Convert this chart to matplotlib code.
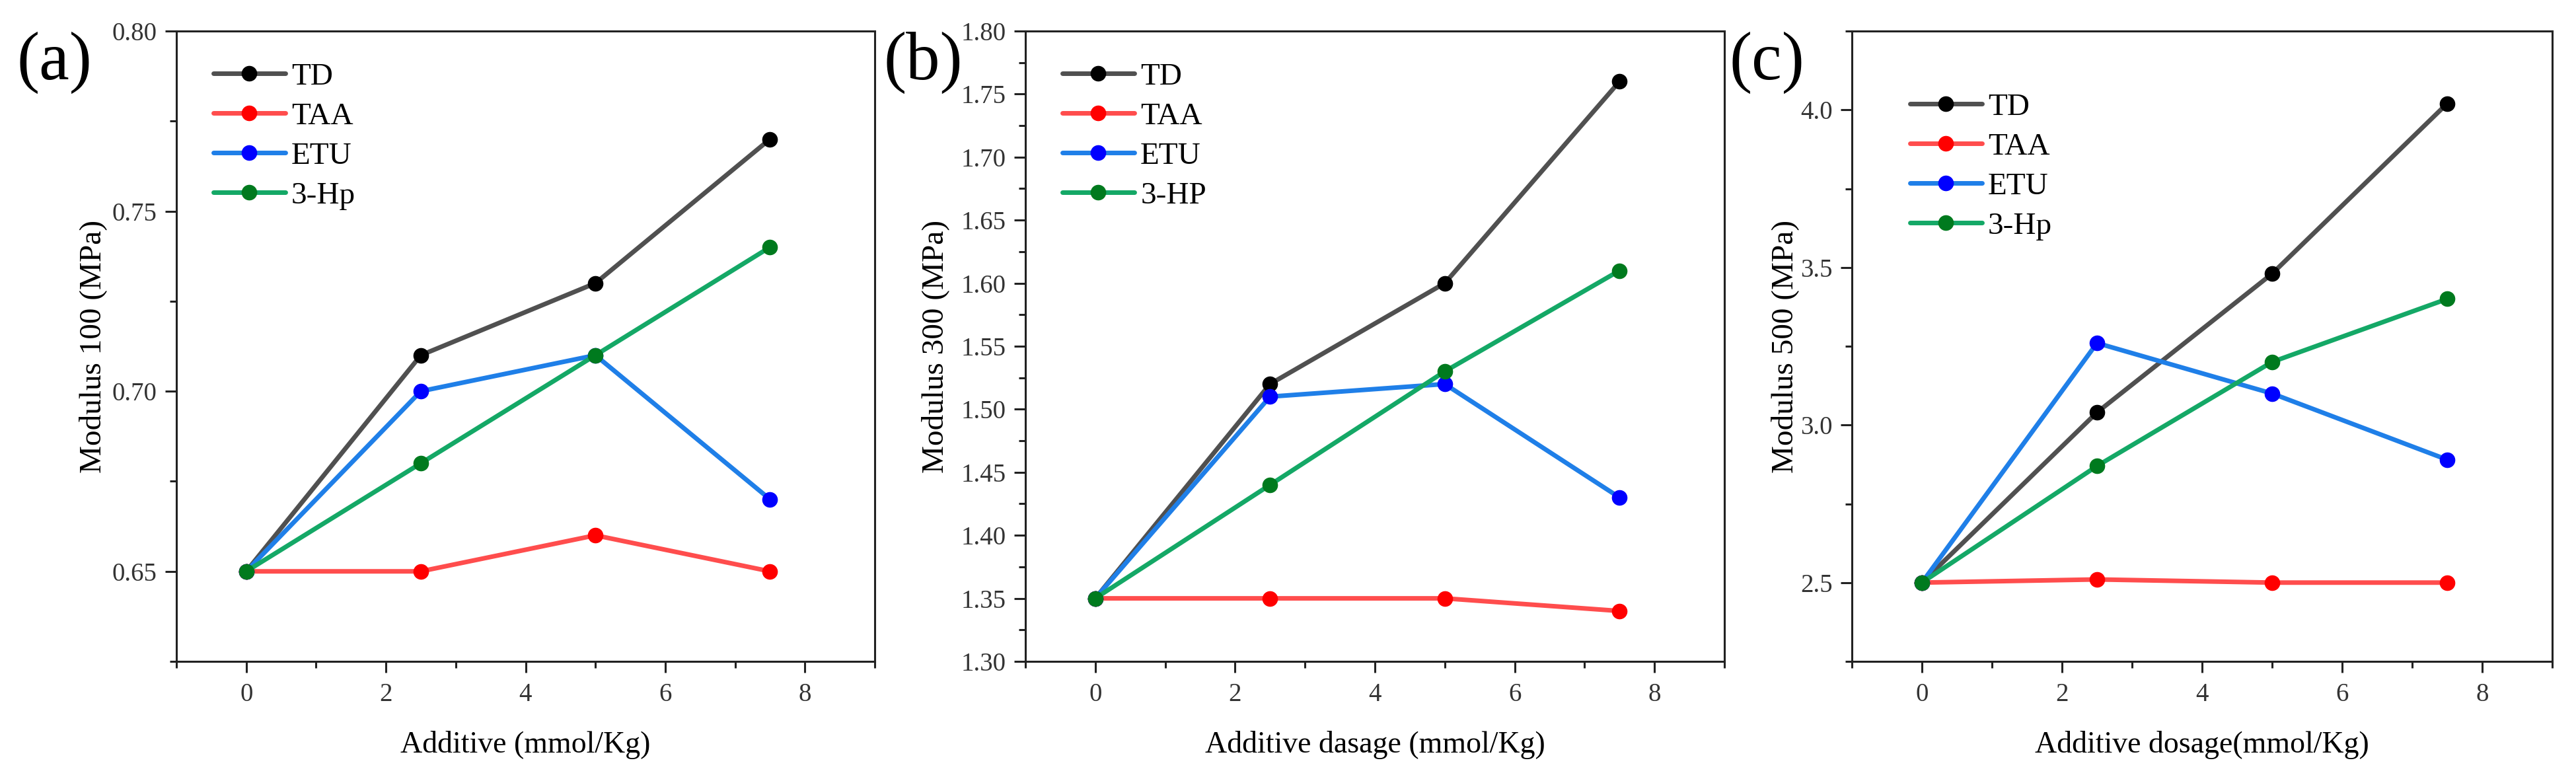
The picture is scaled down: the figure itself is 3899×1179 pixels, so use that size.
import matplotlib
matplotlib.use("Agg")
import matplotlib.pyplot as plt
from matplotlib.ticker import MultipleLocator, FormatStrFormatter

plt.rcParams['font.family'] = ['Liberation Serif', 'DejaVu Serif']

# ---- data ----
dosage = [0, 2.5, 5, 7.5]

a_TD = [0.65, 0.71, 0.73, 0.77]
a_TAA = [0.65, 0.65, 0.66, 0.65]
a_ETU = [0.65, 0.70, 0.71, 0.67]
a_3Hp = [0.65, 0.68, 0.71, 0.74]

b_TD = [1.35, 1.52, 1.60, 1.76]
b_TAA = [1.35, 1.35, 1.35, 1.34]
b_ETU = [1.35, 1.51, 1.52, 1.43]
b_3HP = [1.35, 1.44, 1.53, 1.61]

c_TD = [2.50, 3.04, 3.48, 4.02]
c_TAA = [2.50, 2.51, 2.50, 2.50]
c_ETU = [2.50, 3.26, 3.10, 2.89]
c_3Hp = [2.50, 2.87, 3.20, 3.40]

labels_a = ['TD', 'TAA', 'ETU', '3-Hp']
labels_b = ['TD', 'TAA', 'ETU', '3-HP']
labels_c = ['TD', 'TAA', 'ETU', '3-Hp']

xlabels = ['Additive (mmol/Kg)', 'Additive dasage (mmol/Kg)', 'Additive dosage(mmol/Kg)']
ylabels = ['Modulus 100 (MPa)', 'Modulus 300 (MPa)', 'Modulus 500 (MPa)']
panel_tags = ['(a)', '(b)', '(c)']

line_colors = ['#505050', '#ff4d4d', '#1f7fe8', '#14a866']
marker_colors = ['#000000', '#ff0000', '#0000ff', '#007a1e']

W, H = 3899, 1179
fig = plt.figure(figsize=(W / 100, H / 100), dpi=100)

axes_px = [(267, 1324), (1552, 2610), (2803, 3863)]
top_px, bot_px = 47, 1001

panels = [
    ([a_TD, a_TAA, a_ETU, a_3Hp], labels_a, (0.625, 0.80), 0.05, 0.025, '%.2f', (0.053, 0.95)),
    ([b_TD, b_TAA, b_ETU, b_3HP], labels_b, (1.30, 1.80), 0.05, 0.025, '%.2f', (0.053, 0.95)),
    ([c_TD, c_TAA, c_ETU, c_3Hp], labels_c, (2.25, 4.25), 0.5, 0.25, '%.1f', (0.083, 0.902)),
]

tag_x = [25, 1337, 2617]
ylab_x = [162, 1437, 2723]

for i, (series, labs, ylim, maj, mnr, fmt, legpos) in enumerate(panels):
    l, r = axes_px[i]
    ax = fig.add_axes([l / W, (H - bot_px) / H, (r - l) / W, (bot_px - top_px) / H])
    for s, lab, lc, mc in zip(series, labs, line_colors, marker_colors):
        ax.plot(dosage, s, color=lc, lw=5, marker='o', markersize=16,
                markerfacecolor=mc, markeredgecolor=mc, label=lab,
                solid_capstyle='round')
    ax.set_xlim(-1, 9)
    ax.set_ylim(*ylim)
    ax.xaxis.set_major_locator(MultipleLocator(2))
    ax.xaxis.set_minor_locator(MultipleLocator(1))
    ax.yaxis.set_major_locator(MultipleLocator(maj))
    ax.yaxis.set_minor_locator(MultipleLocator(mnr))
    ax.yaxis.set_major_formatter(FormatStrFormatter(fmt))
    for sp in ax.spines.values():
        sp.set_linewidth(2.2)
        sp.set_color('#222222')
    ax.tick_params(which='both', direction='out', top=False, right=False,
                   width=2.2, color='#222222')
    ax.tick_params(which='major', length=12, pad=9, labelsize=28, labelcolor='#333333')
    ax.tick_params(axis='x', which='major', pad=11)
    ax.tick_params(which='minor', length=7)
    ax.set_xlabel(xlabels[i], fontsize=33, labelpad=26)
    ax.set_ylabel(ylabels[i], fontsize=34)
    ax.yaxis.set_label_coords((ylab_x[i] - l) / (r - l), 0.5, transform=ax.transAxes)
    leg = ax.legend(loc='upper left', bbox_to_anchor=legpos, frameon=False,
                    fontsize=34, handlelength=2.3, handletextpad=0.2,
                    labelspacing=0.36, borderpad=0, borderaxespad=0)
    fig.text(tag_x[i] / W, 1 - 48 / H, panel_tags[i], fontsize=74,
             ha='left', va='top')

fig.savefig('out.png', dpi=100)
